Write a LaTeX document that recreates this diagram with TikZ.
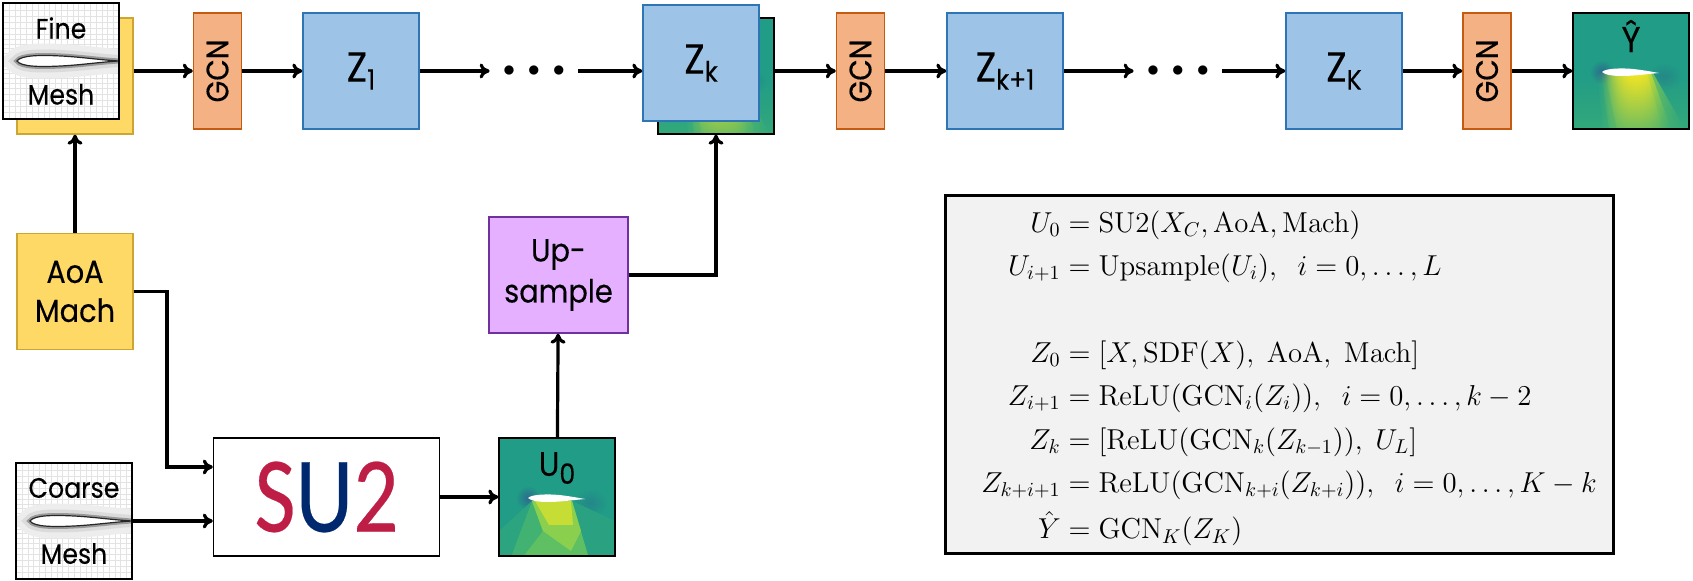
\documentclass[tikz,border=0pt]{standalone}
\usepackage{amsmath}
\usepackage[no-math]{fontspec}
\usepackage{pgf,tikz}
\usetikzlibrary{calc}
\usetikzlibrary{arrows.meta}
\usetikzlibrary{fadings}
\newfontfamily\labelfont[FakeStretch=0.9,FakeBold=0.25]{Poppins}
\newfontfamily\logofont[FakeBold=0.25]{Carlito}

\definecolor{inyellow}{RGB}{255,217,102}
\definecolor{inyellowb}{RGB}{205,165,50}
\definecolor{gcnfill}{RGB}{244,177,131}
\definecolor{gcnedge}{RGB}{197,90,17}
\definecolor{zfill}{RGB}{157,195,230}
\definecolor{zedge}{RGB}{46,117,182}
\definecolor{upfill}{RGB}{228,176,255}
\definecolor{upedge}{RGB}{112,48,160}
\definecolor{suburst}{RGB}{190,30,70}
\definecolor{sublue}{RGB}{0,40,110}
\definecolor{vteal}{RGB}{33,156,135}
\definecolor{vgreen}{RGB}{70,182,110}
\definecolor{vlime}{RGB}{150,212,72}
\definecolor{vyellow}{RGB}{245,230,35}
\definecolor{vblue}{RGB}{45,95,142}

\tikzfading[name=plumefade,left color=transparent!100,right color=transparent!100,middle color=transparent!0]
\tikzfading[name=spotfade,inner color=transparent!0,outer color=transparent!100]
\tikzfading[name=downfade,top color=transparent!100,bottom color=transparent!30]

\newcommand{\foilpath}{(14,58) .. controls (18,52) and (38,52) .. (58,53) .. controls (78,54) and (98,57) .. (116,58) .. controls (98,59) and (78,62) .. (58,63) .. controls (38,64) and (18,64) .. (14,58) -- cycle}

\newcommand{\meshimg}[2]{%
	\begin{scope}[shift={(#1,#2)}]
	\clip (0,0) rectangle (116,116);
	\fill[white] (0,0) rectangle (116,116);
	\foreach \i in {0,...,20}
		\draw[black!11,line width=0.1pt] ({\i*5.8},0) -- ({\i*5.8},116);
	\foreach \i in {1,...,12}{
		\draw[black!11,line width=0.1pt] (0,{58-58*pow(\i/12,1.4)}) -- (116,{58-58*pow(\i/12,1.4)});
		\draw[black!11,line width=0.1pt] (0,{58+58*pow(\i/12,1.4)}) -- (116,{58+58*pow(\i/12,1.4)});
	}
	\draw[black!7,line width=12pt] \foilpath;
	\draw[black!14,line width=6pt] \foilpath;
	\draw[black!40,line width=2.5pt] \foilpath;
	\draw[black!85,fill=white,line width=0.6pt] \foilpath;
	\end{scope}
}

\newcommand{\fieldbase}{%
	\fill[vteal] (0,0) rectangle (116,116);
	\fill[vblue,path fading=spotfade,opacity=.8] (17,47) rectangle (41,71);
	\fill[vblue,path fading=spotfade,opacity=.35] (74,50) rectangle (108,78);
}
\newcommand{\foilwhite}{\fill[white] (29,59) .. controls (33,55) and (50,55) .. (60,56) .. controls (70,57) and (80,59) .. (86,60) .. controls (75,61) and (60,63) .. (50,63) .. controls (40,63) and (32,62) .. (29,59) -- cycle;}

\newcommand{\fieldimg}[2]{%
	\begin{scope}[shift={(#1,#2)}]
	\clip (0,0) rectangle (116,116);
	\fieldbase
	\fill[vlime,path fading=plumefade] (24,60) -- (80,60) -- (112,116) -- (30,116) -- cycle;
	\fill[vyellow,path fading=plumefade] (28,60) -- (78,60) -- (98,116) -- (36,116) -- cycle;
	\fill[vyellow,path fading=plumefade] (32,60) -- (74,60) -- (90,116) -- (44,116) -- cycle;
	\fill[vgreen!70!vteal,path fading=downfade] (0,60) rectangle (116,116);
	\foilwhite
	\end{scope}
}

\newcommand{\zsub}[2]{#1\raisebox{-4pt}{\fontsize{14}{14}\selectfont #2}}

\tikzset{
	box/.style={draw,inner sep=0pt,minimum width=58pt,minimum height=58pt,line width=0.7pt},
	yellowbox/.style={box,fill=inyellow,draw=inyellowb},
	zbox/.style={box,fill=zfill,draw=zedge,font=\labelfont\fontsize{21}{24}\selectfont},
	gcn/.style={draw=gcnedge,fill=gcnfill,inner sep=0pt,minimum width=24pt,minimum height=58pt,line width=0.7pt,font=\labelfont\fontsize{15.5}{18}\selectfont},
	img/.style={box,draw=black},
	dots/.style={inner sep=0pt,minimum width=44pt,minimum height=10pt,font=\fontsize{12.5}{14}\selectfont},
	link/.style={->,line width=1.6pt},
}

\begin{document}
\begin{tikzpicture}[>={To[length=5pt,width=7.5pt]},x=0.5pt,y=-0.5pt]
	\useasboundingbox (0,0) rectangle (1693,581);

	\node[yellowbox] (fineb) at (75,76) {};
	\meshimg{3}{3}
	\node[img,align=center,font=\labelfont\fontsize{14}{33}\selectfont] (fine) at (61,61) {Fine\\Mesh};
	\node[gcn] (gcna) at (217.5,71) {\rotatebox{90}{GCN}};
	\node[zbox] (za) at (361,71) {\zsub{Z}{1}};
	\node[dots] (dotsa) at (534,71) {$\bullet\hspace{3.75pt}\bullet\hspace{3.75pt}\bullet$};
	\fieldimg{658}{18}
	\node[img] (zkb) at (716,76) {};
	\node[zbox] (zk) at (701,63) {\zsub{Z}{k}};
	\node[gcn] (gcnb) at (860.5,71) {\rotatebox{90}{GCN}};
	\node[zbox] (zkp) at (1005,71) {\zsub{Z}{k+1}};
	\node[dots] (dotsb) at (1178,71) {$\bullet\hspace{3.75pt}\bullet\hspace{3.75pt}\bullet$};
	\node[zbox] (zK) at (1344,71) {\zsub{Z}{K}};
	\node[gcn] (gcnc) at (1487,71) {\rotatebox{90}{GCN}};
	\fieldimg{1573}{13}
	\node[img] (yhat) at (1631,71) {};
	\node[inner sep=0pt,font=\labelfont\fontsize{18}{20}\selectfont] (yhatl) at (1631,36) {Ŷ};

	\node[yellowbox,align=center,font=\labelfont\fontsize{16}{19.5}\selectfont] (aoa) at (75,291.5) {AoA\\Mach};
	\node[box,fill=upfill,draw=upedge,minimum width=69.5pt,align=center,font=\labelfont\fontsize{16}{20.5}\selectfont] (up) at (558.5,275) {Up-\\sample};

	\meshimg{16}{463}
	\node[img,align=center,font=\labelfont\fontsize{14}{33}\selectfont] (coarse) at (74,521) {Coarse\\Mesh};
	\node[draw,fill=white,inner sep=0pt,minimum width=113pt,minimum height=59pt,line width=0.7pt,font=\logofont\fontsize{54}{54}\selectfont] (su) at (326.5,497) {\scalebox{.83}[1]{\textcolor{suburst}{S}\textcolor{sublue}{U}\textcolor{suburst}{2}}};

	\begin{scope}[shift={(499,439)}]
	\clip (0,0) rectangle (116,118);
	\fieldbase
	\fill[vteal!75!vgreen] (116,118) -- (116,82) -- (73,62) -- (90,118) -- cycle;
	\fill[vteal!70!vgreen] (0,118) -- (0,92) -- (33,62) -- (12,118) -- cycle;
	\fill[vgreen!85!vteal] (12,118) -- (33,62) -- (90,118) -- cycle;
	\fill[vgreen!70!vlime] (33,62) -- (44,92) -- (24,118) -- (62,118) -- (89,116) -- (73,62) -- cycle;
	\fill[vlime!85!vgreen] (33,62) -- (44,92) -- (72,112) -- (82,92) -- (73,62) -- cycle;
	\fill[vlime!50!vyellow] (36,62) -- (50,86) -- (74,86) -- (72,62) -- cycle;
	\foilwhite
	\end{scope}
	\node[img,minimum height=59pt] (uz) at (557,497) {};
	\node[inner sep=0pt,font=\labelfont\fontsize{17}{20}\selectfont] (uzt) at (557,468) {\zsub{U}{0}};

	\node[draw,fill=black!5,line width=1.5pt,inner sep=0pt,minimum width=334pt,minimum height=179pt,font=\fontsize{14.5}{18.7}\selectfont] (eq) at (1279,375) {\hspace{10pt}\raisebox{-5.1pt}[0pt][0pt]{$\begin{aligned}
		U_0 &= \mathrm{SU2}(X_C, \mathrm{AoA}, \mathrm{Mach})\\
		U_{i+1} &= \mathrm{Upsample}(U_i),\;\; i=0,\ldots,L\\
		\\
		Z_0 &= [X, \mathrm{SDF}(X),\; \mathrm{AoA},\; \mathrm{Mach}]\\
		Z_{i+1} &= \mathrm{ReLU}(\mathrm{GCN}_i(Z_i)),\;\; i=0,\ldots,k-2\\
		Z_k &= [\mathrm{ReLU}(\mathrm{GCN}_k(Z_{k-1})),\; U_L]\\
		Z_{k+i+1} &= \mathrm{ReLU}(\mathrm{GCN}_{k+i}(Z_{k+i})),\;\; i=0,\ldots,K-k\\
		\hat{Y} &= \mathrm{GCN}_K(Z_K)
	\end{aligned}$}};

	\coordinate (bend) at (167,467);
	\coordinate (sua) at (su.west |- bend);

	\draw[link] (fineb.east |- gcna) -- (gcna);
	\draw[link] (gcna) -- (za);
	\draw[link] (za) -- (dotsa);
	\draw[link] (dotsa) -- (zk.west |- dotsa);
	\draw[link] (zkb.east |- gcnb) -- (gcnb);
	\draw[link] (gcnb) -- (zkp);
	\draw[link] (zkp) -- (dotsb);
	\draw[link] (dotsb) -- (zK);
	\draw[link] (zK) -- (gcnc);
	\draw[link] (gcnc) -- (yhat);
	\draw[link] (aoa) -- (fineb);
	\draw[link] (aoa.east) -| (bend) -- (sua);
	\draw[link] (coarse) -- (su.west |- coarse);
	\draw[link] (su) -- (uz);
	\draw[link] (uz) -- (up);
	\draw[link] (up.east) -| (zkb);
\end{tikzpicture}
\end{document}
